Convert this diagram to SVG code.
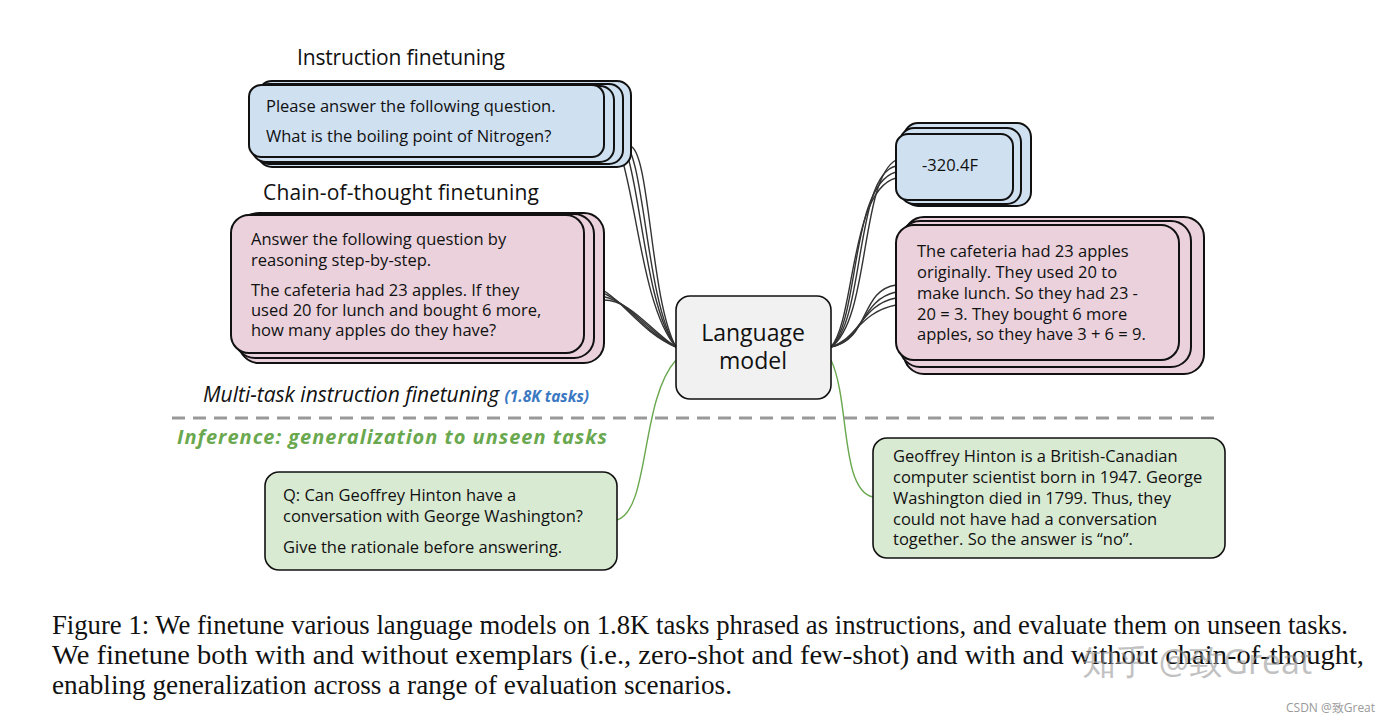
<svg xmlns="http://www.w3.org/2000/svg" width="1400" height="723" viewBox="0 0 1400 723">
<style>
text{font-family:"Open Sans","Liberation Sans",sans-serif;fill:#111}
.b{fill:#cfe0f1;stroke:#111;stroke-width:2}
.p{fill:#ead1dc;stroke:#111;stroke-width:2}
.g{fill:#d9ead3;stroke:#111;stroke-width:1.6}
.t{font-size:16.5px}
.h{font-size:21px}
.c{fill:none;stroke:#333;stroke-width:1.4}
.cg{fill:none;stroke:#6aa84f;stroke-width:1.4}
.cap{font-family:"Liberation Serif",serif;font-size:26.5px}
</style>
<rect width="1400" height="723" fill="#fff"/>
<text x="297" y="65" class="h" textLength="208">Instruction finetuning</text>
<text x="263" y="200" class="h" textLength="276">Chain-of-thought finetuning</text>
<g id="conn">
<path class="c" d="M676 347 C650 300 650 150 630 146"/>
<path class="c" d="M676 347 C645 300 645 150 622 140"/>
<path class="c" d="M676 347 C640 300 640 140 614 134"/>
<path class="c" d="M676 347 C635 300 635 140 604 128"/>
<path class="c" d="M676 347 C650 330 630 300 604 300"/>
<path class="c" d="M676 347 C645 330 625 295 596 296"/>
<path class="c" d="M676 347 C640 330 620 290 588 290"/>
<path class="c" d="M676 347 C635 330 615 285 584 284"/>
<path class="c" d="M831 347 C870 320 860 180 896 160"/>
<path class="c" d="M831 347 C865 320 855 175 896 166"/>
<path class="c" d="M831 347 C860 320 850 185 896 172"/>
<path class="c" d="M831 347 C855 320 850 190 896 178"/>
<path class="c" d="M831 347 C870 340 860 290 896 285"/>
<path class="c" d="M831 347 C865 340 860 300 896 292"/>
<path class="c" d="M831 347 C860 340 860 305 896 298"/>
<path class="c" d="M831 347 C855 340 860 312 896 305"/>
<path class="cg" d="M676 360 C640 400 650 510 617 520"/>
<path class="cg" d="M831 360 C850 400 840 490 873 497"/>
</g>
<g id="inst">
<rect class="b" x="258" y="81" width="373" height="86" rx="14"/>
<rect class="b" x="255" y="84" width="368" height="80" rx="14"/>
<rect class="b" x="252" y="86" width="362" height="76" rx="14"/>
<rect class="b" x="249" y="85" width="355" height="72" rx="12"/>
<text x="266" y="112" class="t">Please answer the following question.</text>
<text x="266" y="142" class="t">What is the boiling point of Nitrogen?</text>
</g>
<g id="cot">
<rect class="p" x="239" y="213" width="365" height="150" rx="20"/>
<rect class="p" x="235" y="214" width="359" height="144" rx="20"/>
<rect class="p" x="231" y="215" width="353" height="138" rx="18"/>
<text x="251" y="245" class="t">Answer the following question by</text>
<text x="251" y="266" class="t">reasoning step-by-step.</text>
<text x="251" y="296" class="t">The cafeteria had 23 apples. If they</text>
<text x="251" y="316" class="t">used 20 for lunch and bought 6 more,</text>
<text x="251" y="336" class="t">how many apples do they have?</text>
</g>
<g id="lm">
<rect x="676" y="296" width="155" height="103" rx="14" fill="#f1f1f1" stroke="#111" stroke-width="1.6"/>
<text x="753" y="341" font-size="23" text-anchor="middle">Language</text>
<text x="753" y="369" font-size="23" text-anchor="middle">model</text>
</g>
<g id="ans1">
<rect class="b" x="904" y="123" width="127" height="83" rx="14"/>
<rect class="b" x="900" y="128" width="121" height="76" rx="14"/>
<rect class="b" x="896" y="134" width="117" height="66" rx="12"/>
<text x="922" y="171" class="t">-320.4F</text>
</g>
<g id="ans2">
<rect class="p" x="904" y="217" width="300" height="157" rx="20"/>
<rect class="p" x="900" y="221" width="291" height="146" rx="20"/>
<rect class="p" x="896" y="225" width="283" height="135" rx="18"/>
<text x="917" y="257" class="t">The cafeteria had 23 apples</text>
<text x="917" y="278" class="t">originally. They used 20 to</text>
<text x="917" y="299" class="t">make lunch. So they had 23 -</text>
<text x="917" y="320" class="t">20 = 3. They bought 6 more</text>
<text x="917" y="340" class="t">apples, so they have 3 + 6 = 9.</text>
</g>
<text x="203" y="402" class="h" font-style="italic">Multi-task instruction finetuning <tspan font-size="15.5" font-weight="bold" style="fill:#3a78c2">(1.8K tasks)</tspan></text>
<line x1="172" y1="418" x2="1220" y2="418" stroke="#999" stroke-width="3" stroke-dasharray="13 8"/>
<text x="177" y="444" font-size="20" font-weight="bold" font-style="italic" style="fill:#6aa84f" textLength="430">Inference: generalization to unseen tasks</text>
<g id="q">
<rect class="g" x="265" y="472" width="352" height="98" rx="14"/>
<text x="283" y="501" class="t">Q: Can Geoffrey Hinton have a</text>
<text x="283" y="522" class="t">conversation with George Washington?</text>
<text x="283" y="553" class="t">Give the rationale before answering.</text>
</g>
<g id="a">
<rect class="g" x="873" y="438" width="352" height="120" rx="14"/>
<text x="893" y="462" class="t">Geoffrey Hinton is a British-Canadian</text>
<text x="893" y="483" class="t">computer scientist born in 1947. George</text>
<text x="893" y="504" class="t">Washington died in 1799. Thus, they</text>
<text x="893" y="525" class="t">could not have had a conversation</text>
<text x="893" y="545" class="t">together. So the answer is “no”.</text>
</g>
<text x="52" y="634" class="cap" textLength="1296" lengthAdjust="spacingAndGlyphs">Figure 1:  We finetune various language models on 1.8K tasks phrased as instructions, and evaluate them on unseen tasks.</text>
<text x="52" y="664" class="cap" textLength="1312" lengthAdjust="spacingAndGlyphs">We finetune both with and without exemplars (i.e., zero-shot and few-shot) and with and without chain-of-thought,</text>
<text x="52" y="694" class="cap" textLength="680" lengthAdjust="spacingAndGlyphs">enabling generalization across a range of evaluation scenarios.</text>
<text x="1082" y="674" font-size="34" font-family="Noto Sans CJK SC, sans-serif" style="fill:#999;opacity:0.6">知乎 @致Great</text>
<text x="1286" y="712" font-size="12" font-family="Noto Sans CJK SC, sans-serif" style="fill:#999">CSDN @致Great</text>
</svg>
